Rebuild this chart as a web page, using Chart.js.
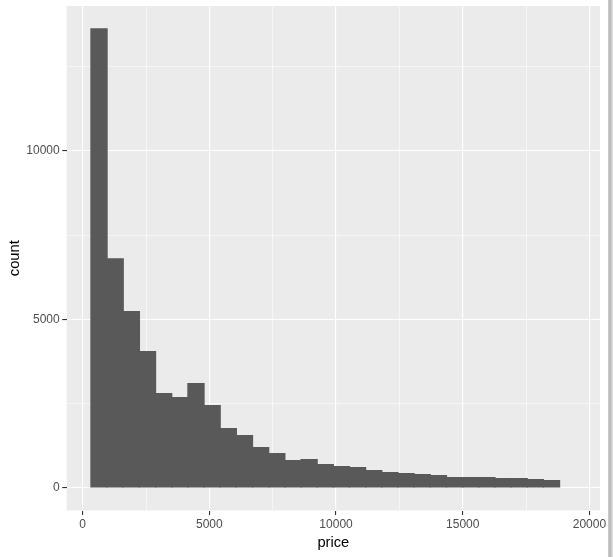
<!DOCTYPE html>
<html>
<head>
<meta charset="utf-8">
<title>price histogram</title>
<script src="https://cdn.jsdelivr.net/npm/chart.js@4/dist/chart.umd.min.js"></script>
<style>
  html, body { margin: 0; padding: 0; background: #fff; }
  #wrap { position: relative; width: 613px; height: 557px; overflow: hidden; }
  #edge {
    position: absolute; top: 0; right: 0; width: 5px; height: 557px;
    background: linear-gradient(to right, #d0d0d0, #b4b4b4 40%, #cfcfcf 70%, #e2e2e2);
  }
</style>
</head>
<body>
<div id="wrap">
  <canvas id="hist" width="613" height="557"></canvas>
  <div id="edge"></div>
</div>
<script>
// bin edges (price), one more edge than counts
const binEdges = [326, 964, 1602, 2240, 2877, 3515, 4153, 4791, 5429, 6066,
  6704, 7342, 7980, 8618, 9256, 9893, 10531, 11169, 11807, 12445,
  13083, 13720, 14358, 14996, 15634, 16272, 16910, 17547, 18185, 18823, 19461];
const counts = [13620, 6795, 5223, 4036, 2789, 2671, 3086, 2433, 1751, 1543,
  1187, 1009, 801, 831, 682, 623, 590, 504, 445, 415,
  386, 356, 299, 297, 295, 267, 265, 237, 208, 0];

const xGrid = [0, 2500, 5000, 7500, 10000, 12500, 15000, 17500, 20000];
const xLabels = ["0", "", "5000", "", "10000", "", "15000", "", "20000"];
const yGrid = [0, 2500, 5000, 7500, 10000, 12500];
const yLabels = ["0", "", "5000", "", "10000", ""];

const bars = counts.map((c, i) => ({ x: (binEdges[i] + binEdges[i + 1]) / 2, y: c }));

// ggplot style 5% expansion on both scales
const xSpan = binEdges[binEdges.length - 1] - binEdges[0];
const xMin = binEdges[0] - xSpan * 0.05;
const xMax = binEdges[binEdges.length - 1] + xSpan * 0.05;
const yTop = Math.max(...counts);
const yMin = -yTop * 0.05;
const yMax = yTop * 1.05;

const panelBg = {
  id: "panelBg",
  beforeDraw(chart) {
    const { ctx, chartArea: a } = chart;
    ctx.save();
    ctx.fillStyle = "#EBEBEB";
    ctx.fillRect(a.left, a.top, a.right - a.left, a.bottom - a.top);
    ctx.restore();
  },
};

function axisFor(grid, labels) {
  const isMajor = (v) => labels[grid.indexOf(v)] !== "";
  return {
    type: "linear",
    offset: false,
    afterBuildTicks: (scale) => {
      scale.ticks = grid.map((v) => ({ value: v }));
    },
    ticks: {
      callback: (v) => labels[grid.indexOf(v)] ?? "",
      color: "#4D4D4D",
      font: { family: "'Liberation Sans', Arial, sans-serif", size: 12 },
      padding: 2.5,
      maxRotation: 0,
      autoSkip: false,
    },
    grid: {
      offset: false,
      color: "#FFFFFF",
      lineWidth: (c) => (c.tick && isMajor(c.tick.value) ? 1.1 : 0.55),
      tickColor: (c) => (c.tick && isMajor(c.tick.value) ? "#333333" : "rgba(0,0,0,0)"),
      tickWidth: 1.1,
      tickLength: 4.5,
      drawTicks: true,
    },
    border: { display: false },
  };
}

const titleFont = { family: "'Liberation Sans', Arial, sans-serif", size: 14.7 };

const xAxis = axisFor(xGrid, xLabels);
xAxis.min = xMin;
xAxis.max = xMax;
xAxis.afterFit = (scale) => {
  scale.height = 46.5;
  scale.paddingLeft = 0;
  scale.paddingRight = 0;
};
xAxis.title = { display: true, text: "price", color: "#000000", font: titleFont, padding: { top: 0, bottom: 5 } };

const yAxis = axisFor(yGrid, yLabels);
yAxis.min = yMin;
yAxis.max = yMax;
yAxis.afterFit = (scale) => {
  scale.width = 66.7;
  scale.paddingTop = 0;
  scale.paddingBottom = 0;
};
yAxis.title = { display: true, text: "count", color: "#000000", font: titleFont, padding: { top: 6, bottom: 0 } };

new Chart(document.getElementById("hist"), {
  type: "bar",
  data: {
    datasets: [
      {
        data: bars,
        backgroundColor: "#595959",
        borderWidth: 0,
        // close the seams between neighbouring bins, but keep empty bins invisible
        inflateAmount: (c) => (c.raw && c.raw.y > 0 ? 0.6 : 0),
        barPercentage: 1,
        categoryPercentage: 1,
      },
    ],
  },
  options: {
    responsive: false,
    animation: false,
    layout: { padding: { top: 6, right: 13, left: 0, bottom: 0 } },
    plugins: { legend: { display: false }, tooltip: { enabled: false } },
    scales: { x: xAxis, y: yAxis },
  },
  plugins: [panelBg],
});
</script>
</body>
</html>
